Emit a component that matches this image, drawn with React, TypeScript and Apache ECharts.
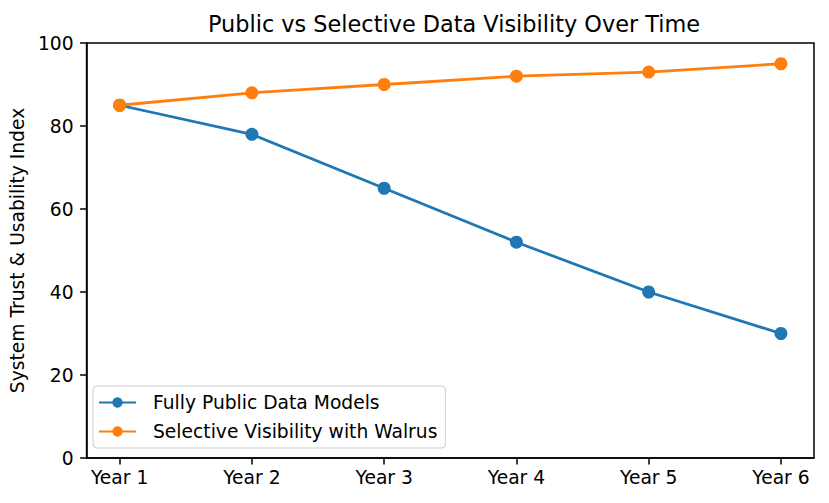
import React, { useEffect, useRef } from "react";
import * as echarts from "echarts";

const categories = ["Year 1", "Year 2", "Year 3", "Year 4", "Year 5", "Year 6"];
const publicValues = [85, 78, 65, 52, 40, 30];
const selectiveValues = [85, 88, 90, 92, 93, 95];
const yTicks = [0, 20, 40, 60, 80, 100];

const FONT = "DejaVu Sans";
const FS = 18.7;

export default function App() {
  const ref = useRef<HTMLDivElement>(null);
  useEffect(() => {
    document.body.style.margin = "0";
    const chart = echarts.init(ref.current!, undefined, { renderer: "svg" });
    const idx = categories.map((_, i) => i);
    chart.setOption({
      animation: false,
      backgroundColor: "#ffffff",
      textStyle: { fontFamily: FONT },
      title: {
        text: "Public vs Selective Data Visibility Over Time",
        left: 449,
        top: 8,
        textAlign: "center",
        textStyle: { fontFamily: FONT, fontSize: 22.4, fontWeight: "normal", color: "#000" },
      },
      grid: {
        left: 83,
        right: 15,
        top: 43,
        bottom: 45,
        show: true,
        borderColor: "#000",
        borderWidth: 1.5,
        backgroundColor: "transparent",
      },
      legend: {
        orient: "vertical",
        left: 93,
        top: 386,
        padding: [7, 8, 7, 5],
        itemWidth: 37,
        itemHeight: 13,
        itemGap: 10,
        backgroundColor: "rgba(255,255,255,0.8)",
        borderColor: "#cccccc",
        borderWidth: 1,
        borderRadius: 4,
        textStyle: { fontFamily: FONT, fontSize: FS, color: "#000", padding: [0, 0, 0, 12] },
        data: ["Fully Public Data Models", "Selective Visibility with Walrus"],
      },
      xAxis: {
        type: "value",
        min: -0.25,
        max: 5.25,
        splitLine: { show: false },
        axisLine: { show: true, onZero: false, lineStyle: { color: "#000", width: 1.5 } },
        axisTick: {
          show: true,
          length: 6.5,
          lineStyle: { color: "#000", width: 1.5 },
          customValues: idx,
        },
        axisLabel: {
          customValues: idx,
          margin: 10,
          fontFamily: FONT,
          fontSize: FS,
          color: "#000",
          formatter: (v: number) => categories[Math.round(v)] ?? "",
        },
      },
      yAxis: {
        type: "value",
        min: 0,
        max: 100,
        interval: 20,
        name: "System Trust & Usability Index",
        nameLocation: "middle",
        nameGap: 56,
        nameTextStyle: { fontFamily: FONT, fontSize: FS, color: "#000" },
        splitLine: { show: false },
        axisLine: { show: true, onZero: false, lineStyle: { color: "#000", width: 1.5 } },
        axisTick: { show: true, length: 6.5, lineStyle: { color: "#000", width: 1.5 } },
        axisLabel: {
          margin: 13,
          fontFamily: FONT,
          fontSize: FS,
          color: "#000",
          customValues: yTicks,
        },
      },
      series: [
        {
          name: "Fully Public Data Models",
          type: "line",
          data: publicValues.map((v, i) => [i, v]),
          symbol: "circle",
          symbolSize: 13,
          lineStyle: { color: "#1f77b4", width: 2.8 },
          itemStyle: { color: "#1f77b4" },
          z: 2,
        },
        {
          name: "Selective Visibility with Walrus",
          type: "line",
          data: selectiveValues.map((v, i) => [i, v]),
          symbol: "circle",
          symbolSize: 13,
          lineStyle: { color: "#ff7f0e", width: 2.8 },
          itemStyle: { color: "#ff7f0e" },
          z: 3,
        },
      ],
    });
    return () => chart.dispose();
  }, []);
  return <div ref={ref} style={{ width: 829, height: 503, position: "absolute", left: 0, top: 0 }} />;
}
